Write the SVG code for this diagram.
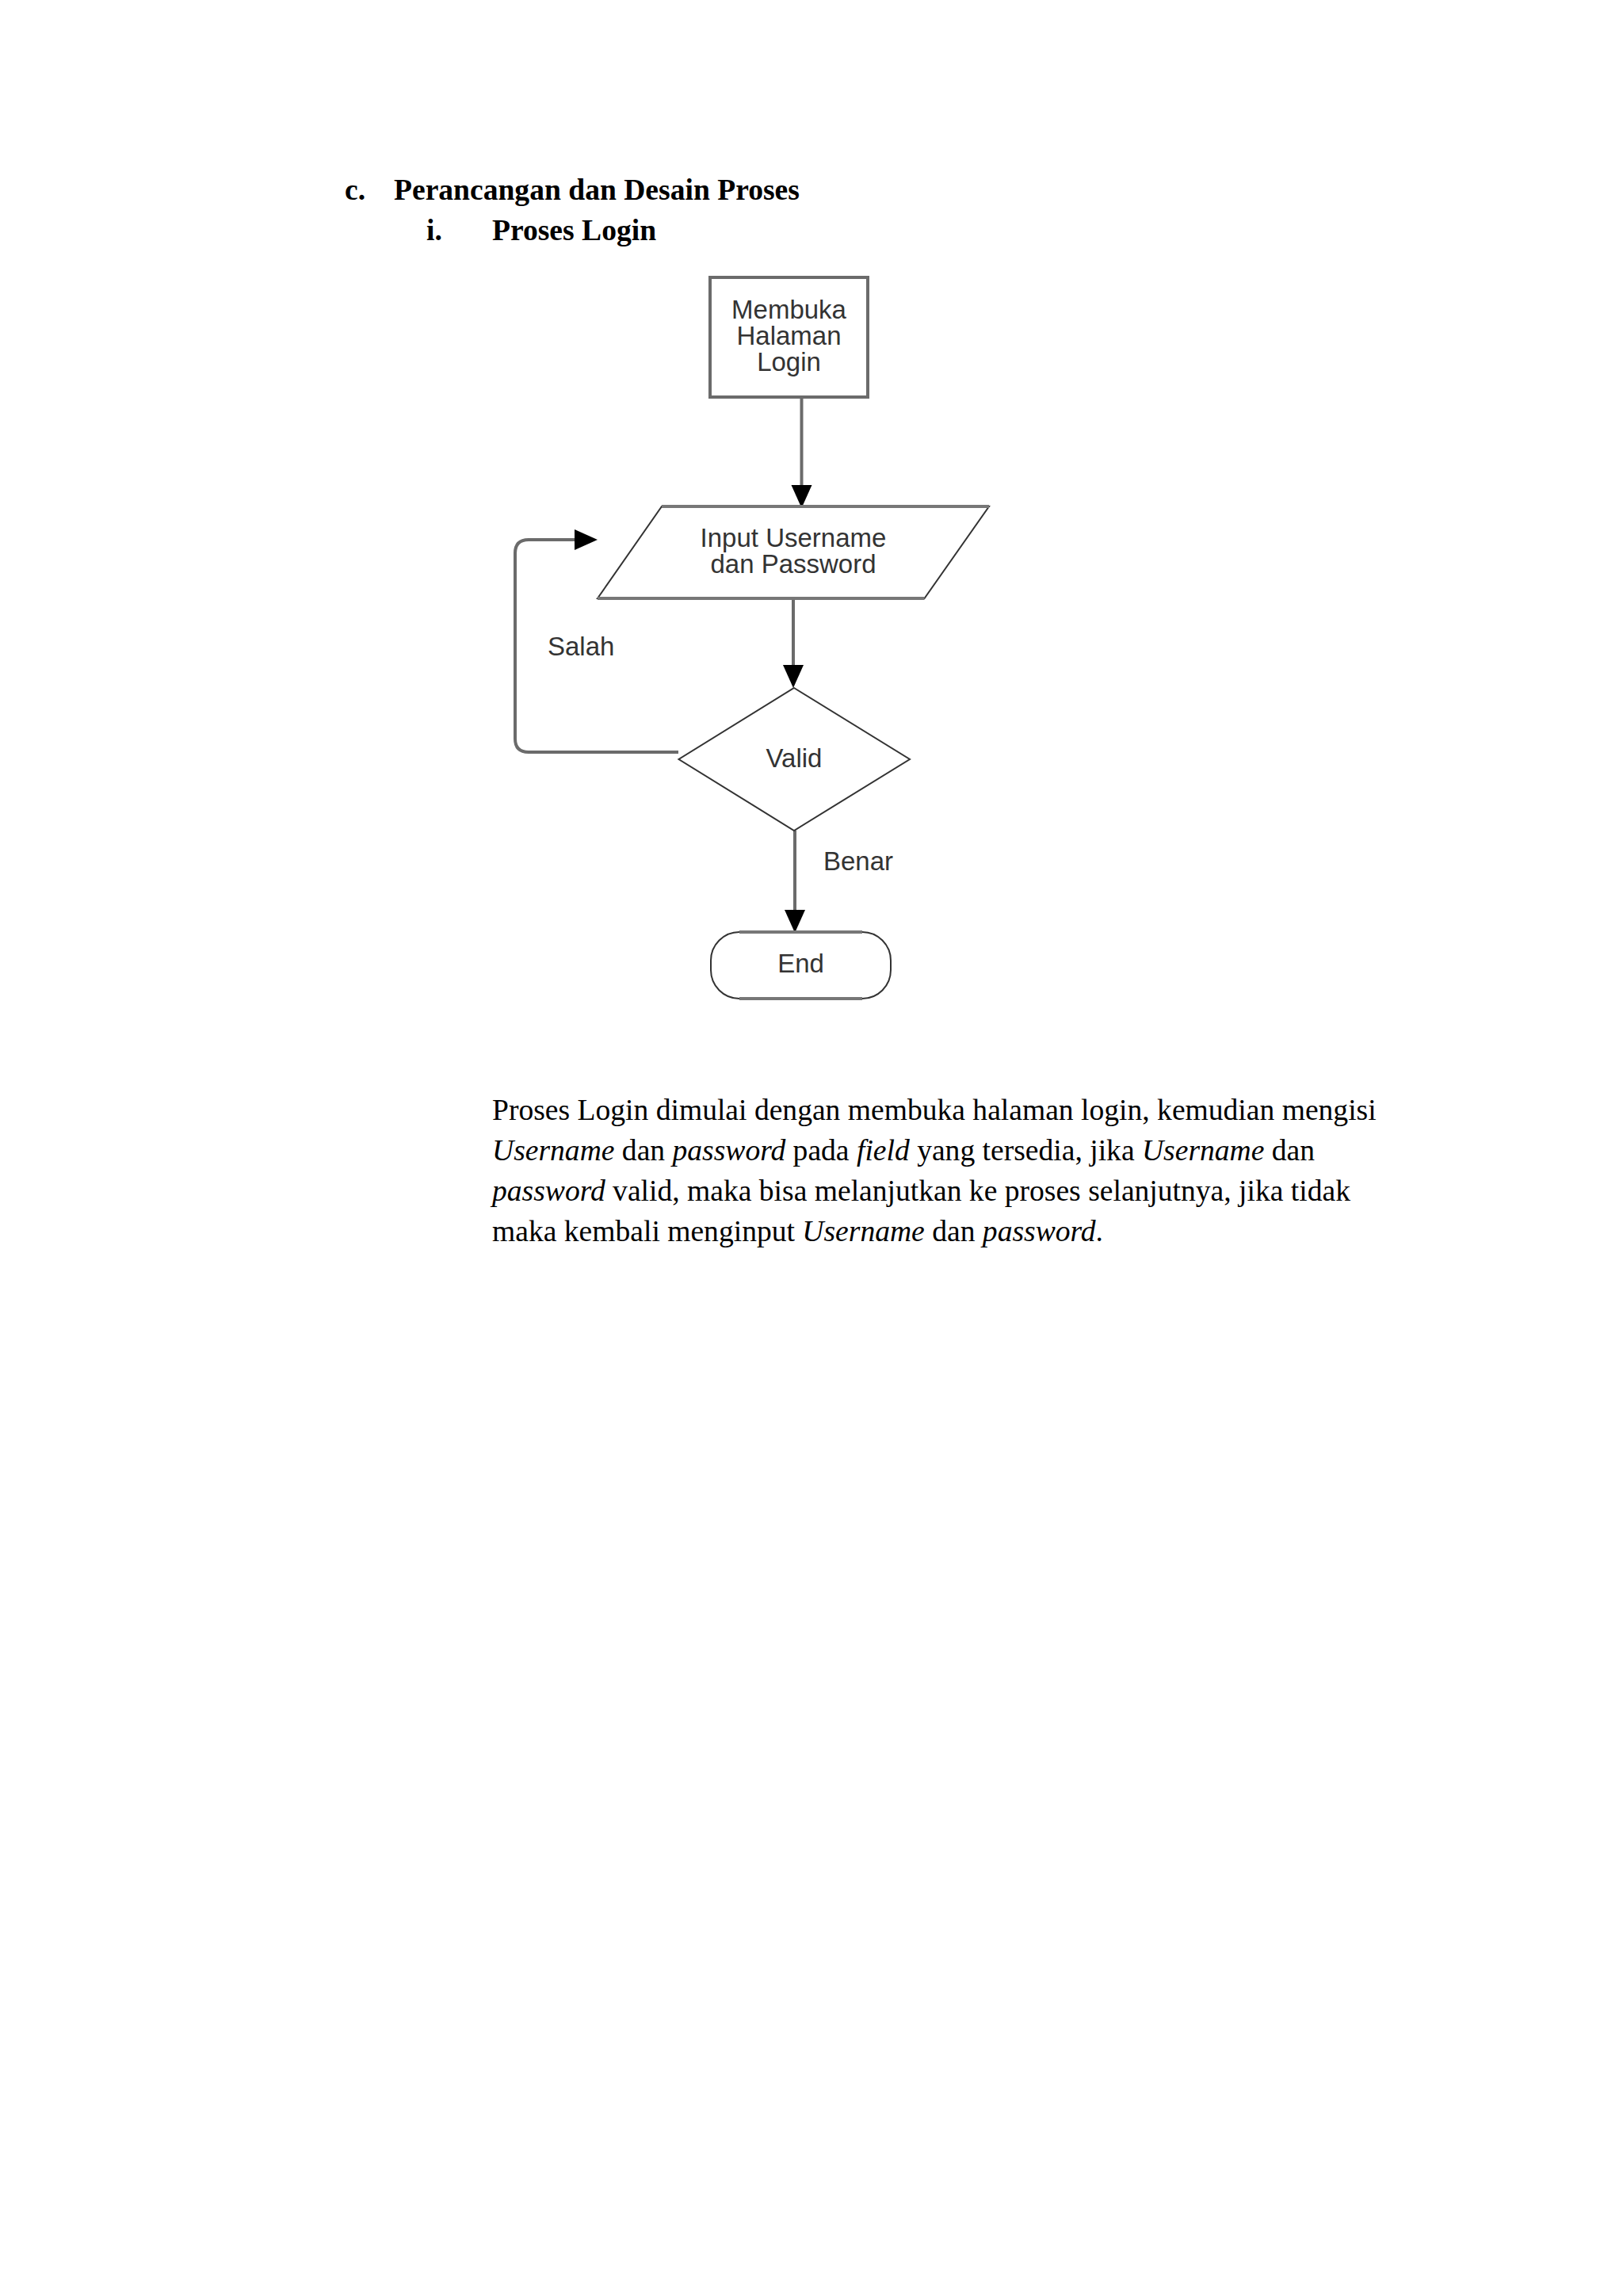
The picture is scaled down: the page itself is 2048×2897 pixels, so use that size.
<svg xmlns="http://www.w3.org/2000/svg" width="2048" height="2897" viewBox="0 0 2048 2897">
<style>
.h{font-family:"Liberation Serif","Times New Roman",serif;font-weight:bold;font-size:37.6px;fill:#000}
.p{font-family:"Liberation Serif","Times New Roman",serif;font-size:37.6px;fill:#000}
.i{font-style:italic}
.t{font-family:"Liberation Sans",Arial,sans-serif;font-size:33px;fill:#333;text-anchor:middle}
.lbl{font-family:"Liberation Sans",Arial,sans-serif;font-size:33px;fill:#333}
.edge{fill:none;stroke:#6b6b6b;stroke-width:4}
.thin{fill:#fff;stroke:#333;stroke-width:2}
.thick{fill:none;stroke:#777;stroke-width:4}
</style>
<defs>
<marker id="arr" markerUnits="userSpaceOnUse" markerWidth="30" markerHeight="26" viewBox="0 0 30 26" refX="0" refY="13" orient="auto" overflow="visible">
<path d="M0,0 L29,13 L0,26 z" fill="#000"/>
</marker>
</defs>
<rect width="2048" height="2897" fill="#fff"/>

<g id="headings">
<text class="h" x="435" y="252">c.</text>
<text class="h" x="497" y="252">Perancangan dan Desain Proses</text>
<text class="h" x="538" y="303">i.</text>
<text class="h" x="621" y="303">Proses Login</text>
</g>

<g id="connectors">
<path class="edge" d="M1011.5,501 V612" marker-end="url(#arr)"/>
<path class="edge" d="M1001,755 V839" marker-end="url(#arr)"/>
<path class="edge" d="M1003,1048 V1148" marker-end="url(#arr)"/>
<path class="edge" d="M856,949 H667 Q650,949 650,932 V698 Q650,681 667,681 H725" marker-end="url(#arr)"/>
<text class="lbl" x="691" y="827">Salah</text>
<text class="lbl" x="1039" y="1098">Benar</text>
</g>

<g id="node-start">
<rect x="896" y="350" width="199" height="151" fill="#fff" stroke="#6b6b6b" stroke-width="4"/>
<text class="t" x="995.5" y="402">Membuka</text>
<text class="t" x="995.5" y="435">Halaman</text>
<text class="t" x="995.5" y="468">Login</text>
</g>

<g id="node-input">
<polygon class="thin" points="835,639 1248,639 1166.5,755 754,755"/>
<line class="thick" x1="835" y1="639" x2="1248" y2="639"/>
<line class="thick" x1="754" y1="755" x2="1166.5" y2="755"/>
<text class="t" x="1001" y="690">Input Username</text>
<text class="t" x="1001" y="723">dan Password</text>
</g>

<g id="node-valid">
<polygon class="thin" points="1002,868 1148,958 1002,1048 856.5,958"/>
<text class="t" x="1002" y="968">Valid</text>
</g>

<g id="node-end">
<rect class="thin" x="897" y="1176" width="227" height="84" rx="36" ry="36"/>
<line class="thick" x1="933" y1="1176" x2="1088" y2="1176"/>
<line class="thick" x1="933" y1="1260" x2="1088" y2="1260"/>
<text class="t" x="1010.5" y="1227">End</text>
</g>

<g id="paragraph">
<text class="p" x="621" y="1413">Proses Login dimulai dengan membuka halaman login, kemudian mengisi</text>
<text class="p" x="621" y="1464"><tspan class="i">Username</tspan> dan <tspan class="i">password</tspan> pada <tspan class="i">field</tspan> yang tersedia, jika <tspan class="i">Username</tspan> dan</text>
<text class="p" x="621" y="1515"><tspan class="i">password</tspan> valid, maka bisa melanjutkan ke proses selanjutnya, jika tidak</text>
<text class="p" x="621" y="1566">maka kembali menginput <tspan class="i">Username</tspan> dan <tspan class="i">password</tspan>.</text>
</g>
</svg>
